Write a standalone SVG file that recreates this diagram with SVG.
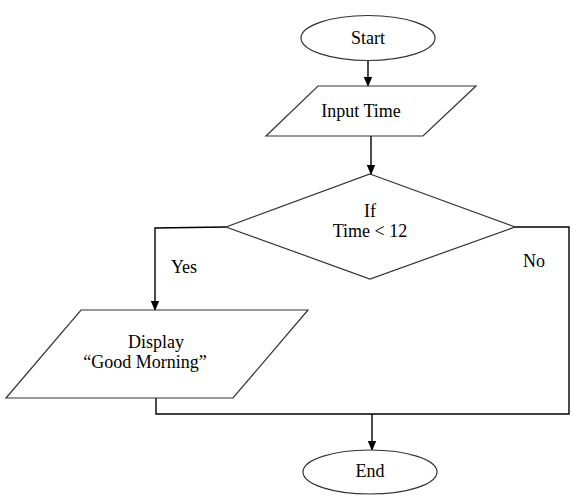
<svg xmlns="http://www.w3.org/2000/svg" width="582" height="501" viewBox="0 0 582 501">
<style>
.shape{fill:#fff;stroke:#333;stroke-width:1.2}
.conn{fill:none;stroke:#000;stroke-width:1.4}
.t{font-family:"Liberation Serif","Times New Roman",serif;font-size:18px;fill:#000;text-anchor:middle}
</style>
<defs>
<marker id="arr" markerWidth="10" markerHeight="10" refX="9" refY="5" orient="auto" markerUnits="userSpaceOnUse">
<path d="M0,0.8 L10,5 L0,9.2 Z" fill="#000"/>
</marker>
</defs>
<rect width="582" height="501" fill="#fff"/>
<g id="connectors">
<line class="conn" x1="368" y1="60" x2="368" y2="86" marker-end="url(#arr)"/>
<line class="conn" x1="371" y1="136" x2="371" y2="174" marker-end="url(#arr)"/>
<polyline class="conn" points="226,227 155,228 155,310" marker-end="url(#arr)"/>
<polyline class="conn" points="515,227 569,227 569,414 156,414 156,398"/>
<line class="conn" x1="372" y1="414" x2="372" y2="450" marker-end="url(#arr)"/>
<text class="t" font-family="Liberation Serif, serif" x="184" y="273">Yes</text>
<text class="t" font-family="Liberation Serif, serif" x="534" y="267">No</text>
</g>
<g id="start">
<ellipse class="shape" cx="368" cy="38" rx="67" ry="22.5"/>
<text class="t" font-family="Liberation Serif, serif" x="368" y="44">Start</text>
</g>
<g id="input">
<polygon class="shape" points="318,86 476,86 423,136 266,136"/>
<text class="t" font-family="Liberation Serif, serif" x="361" y="117">Input Time</text>
</g>
<g id="decision">
<polygon class="shape" points="370,174 515,227 370,279 226,227"/>
<text class="t" font-family="Liberation Serif, serif" x="370" y="217">If</text>
<text class="t" font-family="Liberation Serif, serif" x="370" y="237">Time &lt; 12</text>
</g>
<g id="display">
<polygon class="shape" points="81,310 308,310 233,398 6,398"/>
<text class="t" font-family="Liberation Serif, serif" x="156" y="348">Display</text>
<text class="t" font-family="Liberation Serif, serif" x="145" y="368">“Good Morning”</text>
</g>
<g id="end">
<ellipse class="shape" cx="370" cy="472" rx="67" ry="22"/>
<text class="t" font-family="Liberation Serif, serif" x="370" y="477">End</text>
</g>
</svg>
